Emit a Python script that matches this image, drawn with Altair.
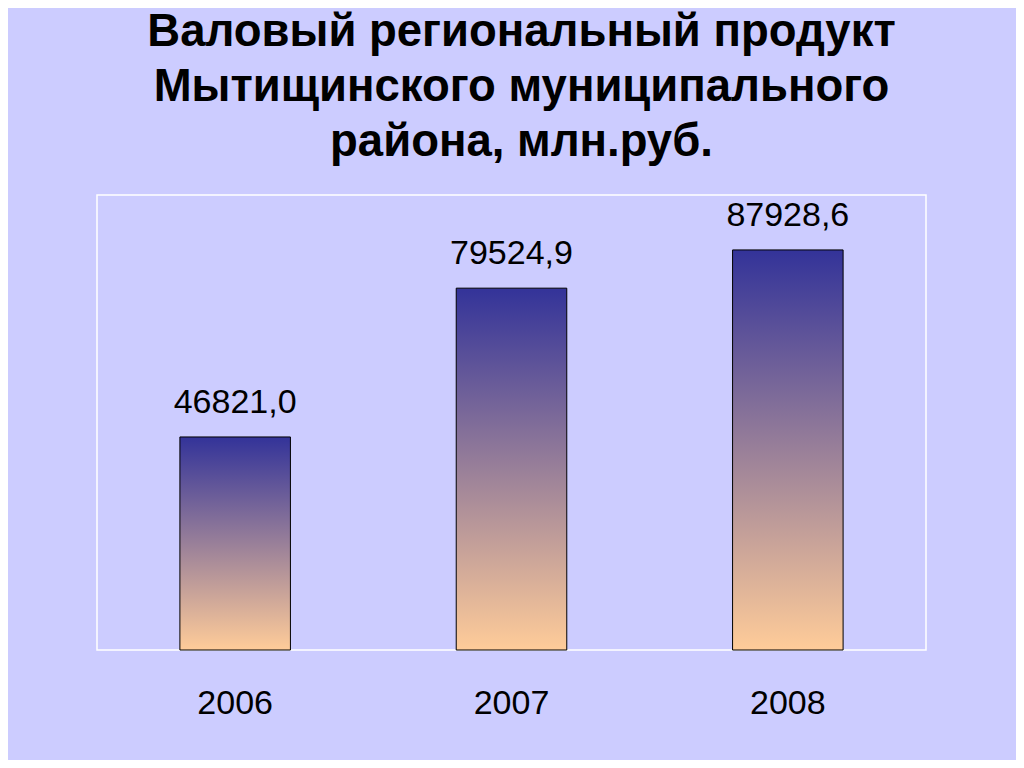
import altair as alt
import pandas as pd

years = ["2006", "2007", "2008"]
values = [46821.0, 79524.9, 87928.6]

df = pd.DataFrame({"year": years, "value": values})

FONT = "Liberation Sans"

grad = alt.Gradient(
    gradient="linear",
    stops=[alt.GradientStop(color="#333399", offset=0),
           alt.GradientStop(color="#ffcc99", offset=1)],
    x1=0, x2=0, y1=0, y2=1,
)

x = alt.X("year:N", sort=years, title=None,
          scale=alt.Scale(paddingInner=0.6, paddingOuter=0.3),
          axis=alt.Axis(labelAngle=0, ticks=False, domain=False, grid=False,
                        labelFontSize=34, labelFont=FONT, labelColor="black",
                        labelPadding=36))
y = alt.Y("value:Q", axis=None, scale=alt.Scale(domain=[0, 100000]))

bars = alt.Chart(df).mark_bar(color=grad, stroke="black", strokeWidth=1).encode(x=x, y=y)

labels = alt.Chart(df).transform_calculate(
    label="replace(format(datum.value, '.1f'), '.', ',')"
).mark_text(fontSize=34, font=FONT, color="black", baseline="alphabetic", dy=-24).encode(
    x=x, y=y, text="label:N"
)

chart = alt.layer(bars, labels).properties(
    width=829, height=455,
    background="#ccccff",
    padding={"left": 89, "top": 187, "right": 90, "bottom": 110},
    autosize=alt.AutoSizeParams(type="none"),
    title=alt.Title(
        text=["Валовый региональный продукт", "Мытищинского муниципального", "района, млн.руб."],
        fontSize=45.5, font=FONT, fontWeight="bold", color="black",
        lineHeight=55, anchor="middle", dx=10, offset=30,
    ),
).configure_view(stroke="white", strokeWidth=1.5)

chart.save("out.html", embed_options={"renderer": "svg", "actions": False})
